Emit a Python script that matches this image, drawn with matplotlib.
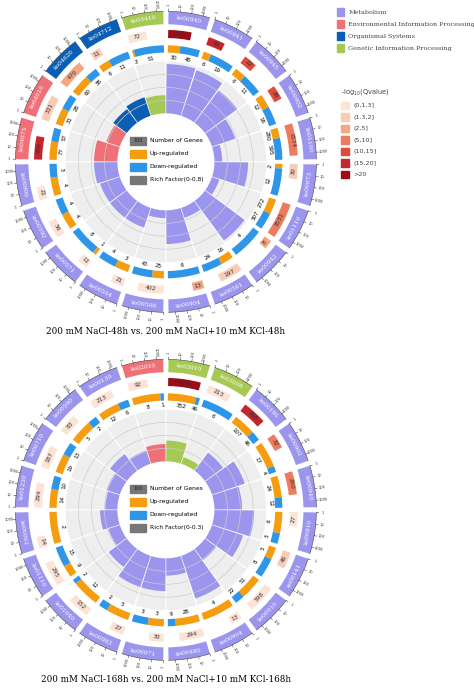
import numpy as np
import matplotlib
matplotlib.use("Agg")
import matplotlib.pyplot as plt
from matplotlib.patches import Rectangle

cat_colors = {"Metabolism": "#9b95ee", "Environmental Information Processing": "#f07077",
              "Organismal Systems": "#0a5fb4", "Genetic Information Processing": "#a5c952"}
q_labels = ["(0,1.3]", "(1.3,2]", "(2,5]", "(5,10]", "(10,15]", "(15,20]", ">20"]
q_colors = ["#fbe3d6", "#f7cdb7", "#f4a582", "#ec7b5f", "#dd4b3c", "#c3262c", "#9b0d18"]
UP = "#f59d0f"; DOWN = "#2e96e8"

# chart 1
ids1 = ["ko00940","ko00941","ko00945","ko00902","ko01100","ko00073","ko01110","ko00942","ko00561","ko00904",
        "ko00500","ko00564","ko00571","ko00592","ko00900","ko04075","ko04016","ko04626","ko04712","ko03410"]
cat1 = ["M"]*15 + ["E","E","O","O","G"]
bg1 = [206,49,22,26,1574,30,3531,8,197,13,402,21,11,56,21,208,331,470,11,72]
q1 = [6,5,4,4,3,1,3,2,1,2,0,0,0,0,0,5,1,2,1,0]
up1 = [30,6,6,12,280,2,272,0,16,0,25,3,1,4,4,77,31,60,6,3]
dn1 = [48,19,11,16,595,12,307,4,24,6,43,4,8,4,3,57,28,38,11,51]
rf1 = [0.76,0.74,0.62,0.38,0.12,0.52,0.12,0.76,0.16,0.52,0.12,0.32,0.32,0.32,0.36,0.36,0.22,0.26,0.30,0.28]

# chart 2
ids2 = ["ko03010","ko03008","ko00196","ko00902","ko00940","ko00910","ko00141","ko00010","ko00904","ko00480",
        "ko00071","ko00983","ko01040","ko01110","ko00061","ko01230","ko00710","ko00590","ko00130","ko02010"]
cat2 = ["G","G"] + ["M"]*17 + ["E"]
bg2 = [1738,213,266,32,200,27,46,598,13,294,30,27,152,295,14,294,187,83,213,92]
q2 = [6,0,5,3,3,0,1,0,0,0,0,0,0,0,0,0,0,0,0,0]
up2 = [352,0,107,17,24,6,5,51,4,28,3,5,12,9,2,14,19,5,12,8]
dn2 = [46,6,46,4,12,3,8,22,0,9,3,2,2,15,0,10,13,2,6,1]
rf2 = [0.12,0.04,0.13,0.20,0.16,0.23,0.19,0.08,0.26,0.10,0.19,0.19,0.13,0.07,0.10,0.07,0.08,0.12,0.08,0.10]

cmap = {"M": "Metabolism", "E": "Environmental Information Processing",
        "O": "Organismal Systems", "G": "Genetic Information Processing"}

fig = plt.figure(figsize=(4.74, 6.96), dpi=100)

def tang_rot(a):
    r = -a
    if 90 < a < 270:
        r += 180
    return r

def circle(rect, ids, cats, bg, q, up, dn, rf, rfmax, title):
    ax = fig.add_axes(rect, projection="polar")
    ax.set_theta_zero_location("N"); ax.set_theta_direction(-1)
    ax.set_ylim(0, 1); ax.axis("off")
    n = len(ids); w = 2*np.pi/n; gap = 0.035
    R0 = 0.30; RH = 0.32
    for i in range(n):
        t0 = i*w + gap/2; ww = w - gap; tc = i*w + w/2
        a = np.degrees(tc)
        col = cat_colors[cmap[cats[i]]]
        ax.bar(tc, 0.08, ww, bottom=0.85, color=col, edgecolor="none")
        ax.text(tc, 0.89, ids[i], rotation=tang_rot(a), ha="center", va="center", fontsize=4.3, color="white", family="DejaVu Serif")
        for k, lab in enumerate(["1", "10", "100", "1000"]):
            tt = t0 + ww*k/3.6
            ax.plot([tt, tt], [0.93, 0.945], color="#444", lw=0.4)
            ax.text(tt, 0.972, lab, rotation=90 - np.degrees(tt) if np.degrees(tt) < 180 else 270 - np.degrees(tt),
                    ha="center", va="center", fontsize=2.6, color="#333")
        ax.plot(np.linspace(t0, t0+ww, 20), [0.93]*20, color="#444", lw=0.4)
        L = ww*np.log10(max(bg[i], 1.5))/np.log10(10**3.6)
        ax.bar(t0 + L/2, 0.05, L, bottom=0.765, color=q_colors[q[i]], edgecolor="none")
        ax.text(t0 + L/2, 0.79, str(bg[i]), rotation=tang_rot(a), ha="center", va="center", fontsize=4.2, color="#333")
        tot = up[i] + dn[i]
        lu = ww*up[i]/tot
        if up[i] > 0:
            ax.bar(t0 + lu/2, 0.045, lu, bottom=0.675, color=UP, edgecolor="none")
            ax.text(t0 + lu/2, 0.645, str(up[i]), rotation=tang_rot(a), ha="center", va="center", fontsize=4)
        if dn[i] > 0:
            ax.bar(t0 + lu + (ww-lu)/2, 0.045, ww-lu, bottom=0.675, color=DOWN, edgecolor="none")
            ax.text(t0 + lu + (ww-lu)/2, 0.645, str(dn[i]), rotation=tang_rot(a), ha="center", va="center", fontsize=4)
        ax.bar(tc, RH, w-0.014, bottom=R0, color="#eeeeee", edgecolor="none")
        for rr in [R0+RH*0.25, R0+RH*0.5, R0+RH*0.75]:
            ax.plot(np.linspace(i*w+0.007, (i+1)*w-0.007, 20), [rr]*20, color="#cccccc", lw=0.5)
        ax.bar(tc, RH*rf[i]/rfmax, w-0.014, bottom=R0, color=col, edgecolor="none")
    items = [("#777777", "Number of Genes"), (UP, "Up-regulated"), (DOWN, "Down-regulated"), ("#777777", "Rich Factor(0-%g)" % rfmax)]
    for k, (c, lab) in enumerate(items):
        y = 0.565 - k*0.04
        ax.add_patch(Rectangle((0.39, y-0.012), 0.05, 0.024, transform=ax.transAxes, color=c, clip_on=False))
        ax.text(0.45, y, lab, transform=ax.transAxes, fontsize=4.3, va="center", ha="left")
    ax.text(0.415, 0.565, "100", transform=ax.transAxes, fontsize=3.5, va="center", ha="center", color="#222")
    fig.text(rect[0] + rect[2]/2, rect[1] - 0.012, title, ha="center", va="center", fontsize=6.3, family="DejaVu Serif")

circle([0.005, 0.535, 0.69, 0.465], ids1, cat1, bg1, q1, up1, dn1, rf1, 0.8,
       "200 mM NaCl-48h vs. 200 mM NaCl+10 mM KCl-48h")
circle([0.005, 0.035, 0.69, 0.465], ids2, cat2, bg2, q2, up2, dn2, rf2, 0.3,
       "200 mM NaCl-168h vs. 200 mM NaCl+10 mM KCl-168h")

x0 = 0.71
for k, (lab, c) in enumerate(cat_colors.items()):
    y = 0.982 - k*0.017
    fig.patches.append(Rectangle((x0, y-0.005), 0.016, 0.011, transform=fig.transFigure, color=c))
    fig.text(x0+0.025, y, lab, fontsize=4.6, va="center", family="DejaVu Serif", color="#444")
fig.text(x0+0.01, 0.868, r"-log$_{10}$(Qvalue)", fontsize=4.8, va="center", color="#444")
for k, (lab, c) in enumerate(zip(q_labels, q_colors)):
    y = 0.848 - k*0.0165
    fig.patches.append(Rectangle((x0+0.01, y-0.005), 0.016, 0.011, transform=fig.transFigure, color=c))
    fig.text(x0+0.035, y, lab, fontsize=4.6, va="center", color="#444")

fig.savefig("out.png", dpi=100)
